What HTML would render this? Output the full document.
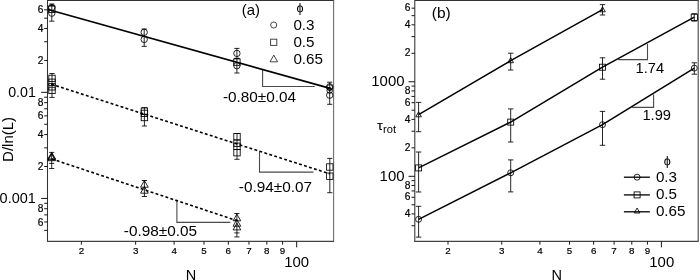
<!DOCTYPE html>
<html><head><meta charset="utf-8"><title>Figure</title>
<style>html,body{margin:0;padding:0;background:#fff}svg{display:block}</style>
</head><body>
<svg width="700" height="280" viewBox="0 0 700 280">
<rect width="700" height="280" fill="#fff"/>
<path d="M47.5 241.35V0.5H333.6" stroke="#333" stroke-width="1.05" fill="none" stroke-linecap="square"/>
<path d="M333.6 0.5V241.35" stroke="#6e6e6e" stroke-width="1.1" fill="none"/>
<path d="M47.0 241.35H334.1" stroke="#444" stroke-width="1.1" fill="none"/>
<path d="M41.20 92.35H47.5M44.20 60.41H47.5M44.20 41.73H47.5M44.20 28.47H47.5M44.20 18.19H47.5M44.20 9.79H47.5M41.20 198.45H47.5M44.20 166.51H47.5M44.20 147.83H47.5M44.20 134.57H47.5M44.20 124.29H47.5M44.20 115.89H47.5M44.20 108.79H47.5M44.20 102.63H47.5M44.20 97.20H47.5M44.20 230.39H47.5M44.20 221.99H47.5M44.20 214.89H47.5M44.20 208.73H47.5M44.20 203.30H47.5" stroke="#151515" stroke-width="1" fill="none"/>
<g font-family="'Liberation Sans', sans-serif" fill="#000">
<text x="43.3" y="64.01" font-size="10.2" text-anchor="end" stroke="#000" stroke-width="0.2">2</text>
<text x="43.3" y="32.07" font-size="10.2" text-anchor="end" stroke="#000" stroke-width="0.2">4</text>
<text x="43.3" y="13.39" font-size="10.2" text-anchor="end" stroke="#000" stroke-width="0.2">6</text>
<text x="43.3" y="170.11" font-size="10.2" text-anchor="end" stroke="#000" stroke-width="0.2">2</text>
<text x="43.3" y="138.17" font-size="10.2" text-anchor="end" stroke="#000" stroke-width="0.2">4</text>
<text x="43.3" y="119.49" font-size="10.2" text-anchor="end" stroke="#000" stroke-width="0.2">6</text>
<text x="43.3" y="106.23" font-size="10.2" text-anchor="end" stroke="#000" stroke-width="0.2">8</text>
<text x="43.3" y="225.59" font-size="10.2" text-anchor="end" stroke="#000" stroke-width="0.2">6</text>
<text x="43.3" y="212.33" font-size="10.2" text-anchor="end" stroke="#000" stroke-width="0.2">8</text>
<text x="35.8" y="97.05" font-size="14.2" text-anchor="end">0.01</text>
<text x="-0.4" y="203.25" font-size="14.3" textLength="36.2" lengthAdjust="spacingAndGlyphs">0.001</text>
<text x="81.40" y="254.2" font-size="9.8" text-anchor="middle" stroke="#000" stroke-width="0.2">2</text>
<text x="135.64" y="254.2" font-size="9.8" text-anchor="middle" stroke="#000" stroke-width="0.2">3</text>
<text x="174.12" y="254.2" font-size="9.8" text-anchor="middle" stroke="#000" stroke-width="0.2">4</text>
<text x="203.97" y="254.2" font-size="9.8" text-anchor="middle" stroke="#000" stroke-width="0.2">5</text>
<text x="228.35" y="254.2" font-size="9.8" text-anchor="middle" stroke="#000" stroke-width="0.2">6</text>
<text x="248.97" y="254.2" font-size="9.8" text-anchor="middle" stroke="#000" stroke-width="0.2">7</text>
<text x="266.83" y="254.2" font-size="9.8" text-anchor="middle" stroke="#000" stroke-width="0.2">8</text>
<text x="282.59" y="254.2" font-size="9.8" text-anchor="middle" stroke="#000" stroke-width="0.2">9</text>
<text x="284.2" y="266.9" font-size="14.5" textLength="24.9" lengthAdjust="spacingAndGlyphs">100</text>
<path d="M81.40 241.35V244.65M135.64 241.35V244.65M174.12 241.35V244.65M203.97 241.35V244.65M228.35 241.35V244.65M248.97 241.35V244.65M266.83 241.35V244.65M282.59 241.35V244.65M296.68 241.35V247.35" stroke="#151515" stroke-width="1" fill="none"/>
<text x="191" y="279.9" font-size="14.5" text-anchor="middle">N</text>
<text transform="translate(13.1 161.9) rotate(-90)" font-size="14.5" textLength="45" lengthAdjust="spacingAndGlyphs">D/ln(L)</text>
<text x="241.8" y="15.3" font-size="14.5" textLength="18.2" lengthAdjust="spacingAndGlyphs">(a)</text>
<text x="300" y="11.9" font-size="12.6" text-anchor="middle">ϕ</text>
<text x="293.4" y="29.90" font-size="15.2">0.3</text>
<text x="293.4" y="47.10" font-size="15.2">0.5</text>
<text x="293.4" y="64.30" font-size="15.2">0.65</text>
<text x="222.9" y="102.3" font-size="14.8" textLength="73.2" lengthAdjust="spacingAndGlyphs">-0.80±0.04</text>
<text x="238.8" y="192.2" font-size="14.8" textLength="73.2" lengthAdjust="spacingAndGlyphs">-0.94±0.07</text>
<text x="123.8" y="235.8" font-size="14.8" textLength="73.2" lengthAdjust="spacingAndGlyphs">-0.98±0.05</text>
</g>
<circle cx="273.7" cy="25" r="3.05" stroke="#3c3c3c" stroke-width="0.95" fill="none"/>
<rect x="270.6" y="39.2" width="6.2" height="6.2" stroke="#3c3c3c" stroke-width="0.95" fill="none"/>
<path d="M273.8 55.1L277.6 61.8H270Z" stroke="#3c3c3c" stroke-width="0.95" fill="none"/>
<path d="M262.6 69.7V86.5H314.8" stroke="#4a4a4a" stroke-width="1.1" fill="none"/>
<path d="M259.5 151.2V172.1H313.5" stroke="#4a4a4a" stroke-width="1.1" fill="none"/>
<path d="M176.9 200.3V222.4H230.4" stroke="#4a4a4a" stroke-width="1.1" fill="none"/>
<path d="M48 9.5L331 88.6" stroke="#000" stroke-width="1.75" fill="none"/>
<path d="M51.1 84.15L330 173.9" stroke="#000" stroke-width="1.6" stroke-dasharray="2.9 2.31" fill="none"/>
<path d="M51.75 158.95L236.8 220.6" stroke="#000" stroke-width="1.6" stroke-dasharray="2.9 2.31" fill="none"/>
<circle cx="51.80" cy="7.50" r="3.2" stroke="#000" stroke-width="0.85" fill="none"/>
<rect x="48.60" y="6.10" width="6.4" height="6.4" stroke="#000" stroke-width="0.85" fill="none"/>
<circle cx="51.80" cy="13.20" r="3.2" stroke="#000" stroke-width="0.85" fill="none"/>
<path d="M51.80 4.00V21.20M49.20 4.00H54.40M49.20 5.50H54.40M49.20 21.20H54.40" stroke="#000" stroke-width="0.85" fill="none"/>
<circle cx="144.20" cy="32.30" r="3.2" stroke="#000" stroke-width="0.85" fill="none"/>
<circle cx="144.20" cy="39.40" r="3.2" stroke="#000" stroke-width="0.85" fill="none"/>
<path d="M144.20 29.00V46.30M141.60 29.00H146.80M141.60 46.30H146.80" stroke="#000" stroke-width="0.85" fill="none"/>
<circle cx="236.90" cy="53.40" r="3.2" stroke="#000" stroke-width="0.85" fill="none"/>
<path d="M236.90 48.40V58.40M234.30 48.40H239.50M234.30 58.40H239.50" stroke="#000" stroke-width="0.85" fill="none"/>
<rect x="233.70" y="58.90" width="6.4" height="6.4" stroke="#000" stroke-width="0.85" fill="none"/>
<circle cx="236.90" cy="65.70" r="3.2" stroke="#000" stroke-width="0.85" fill="none"/>
<path d="M236.90 58.40V73.00M234.30 58.40H239.50M234.30 73.00H239.50" stroke="#000" stroke-width="0.85" fill="none"/>
<circle cx="329.70" cy="86.80" r="3.2" stroke="#000" stroke-width="0.85" fill="none"/>
<circle cx="329.70" cy="87.60" r="3" stroke="#000" stroke-width="0.85" fill="none"/>
<circle cx="329.70" cy="90.60" r="2.8" stroke="#000" stroke-width="0.85" fill="none"/>
<circle cx="329.70" cy="95.20" r="3.2" stroke="#000" stroke-width="0.85" fill="none"/>
<path d="M329.70 82.20V104.30M327.10 82.20H332.30M327.10 104.30H332.30" stroke="#000" stroke-width="0.85" fill="none"/>
<rect x="48.80" y="75.20" width="6.4" height="6.4" stroke="#000" stroke-width="0.85" fill="none"/>
<rect x="48.80" y="79.10" width="6.4" height="6.4" stroke="#000" stroke-width="0.85" fill="none"/>
<rect x="48.80" y="83.60" width="6.4" height="6.4" stroke="#000" stroke-width="0.85" fill="none"/>
<rect x="48.80" y="87.20" width="6.4" height="6.4" stroke="#000" stroke-width="0.85" fill="none"/>
<path d="M52.00 73.50V97.40M49.40 73.50H54.60M49.40 97.40H54.60" stroke="#000" stroke-width="0.85" fill="none"/>
<rect x="141.20" y="107.90" width="6.4" height="6.4" stroke="#000" stroke-width="0.85" fill="none"/>
<rect x="141.20" y="110.20" width="6.4" height="6.4" stroke="#000" stroke-width="0.85" fill="none"/>
<rect x="141.20" y="114.30" width="6.4" height="6.4" stroke="#000" stroke-width="0.85" fill="none"/>
<path d="M144.40 107.70V126.00M141.80 107.70H147.00M141.80 126.00H147.00" stroke="#000" stroke-width="0.85" fill="none"/>
<rect x="233.80" y="133.50" width="6.4" height="6.4" stroke="#000" stroke-width="0.85" fill="none"/>
<rect x="233.80" y="140.00" width="6.4" height="6.4" stroke="#000" stroke-width="0.85" fill="none"/>
<rect x="233.80" y="143.10" width="6.4" height="6.4" stroke="#000" stroke-width="0.85" fill="none"/>
<rect x="233.80" y="149.50" width="6.4" height="6.4" stroke="#000" stroke-width="0.85" fill="none"/>
<path d="M237.00 133.50V159.30M234.40 133.50H239.60M234.40 159.30H239.60" stroke="#000" stroke-width="0.85" fill="none"/>
<rect x="326.60" y="163.80" width="6.4" height="6.4" stroke="#000" stroke-width="0.85" fill="none"/>
<rect x="326.60" y="173.00" width="6.4" height="6.4" stroke="#000" stroke-width="0.85" fill="none"/>
<path d="M329.80 158.40V192.70M327.20 158.40H332.40M327.20 192.70H332.40" stroke="#000" stroke-width="0.85" fill="none"/>
<path d="M51.70 152.31L55.55 159.01L47.85 159.01Z" stroke="#000" stroke-width="0.85" fill="none"/>
<path d="M51.70 153.11L55.55 159.81L47.85 159.81Z" stroke="#000" stroke-width="0.85" fill="none"/>
<path d="M51.70 154.01L55.55 160.71L47.85 160.71Z" stroke="#000" stroke-width="0.85" fill="none"/>
<path d="M51.70 152.40V168.50M49.10 152.40H54.30M49.10 163.40H54.30M49.10 168.50H54.30" stroke="#000" stroke-width="0.85" fill="none"/>
<path d="M144.40 180.51L148.25 187.21L140.55 187.21Z" stroke="#000" stroke-width="0.85" fill="none"/>
<path d="M144.40 186.51L148.25 193.21L140.55 193.21Z" stroke="#000" stroke-width="0.85" fill="none"/>
<path d="M144.40 180.50V196.50M141.80 180.50H147.00M141.80 196.50H147.00" stroke="#000" stroke-width="0.85" fill="none"/>
<path d="M236.90 214.11L240.75 220.81L233.05 220.81Z" stroke="#000" stroke-width="0.85" fill="none"/>
<path d="M236.90 219.51L240.75 226.21L233.05 226.21Z" stroke="#000" stroke-width="0.85" fill="none"/>
<path d="M236.90 223.21L240.75 229.91L233.05 229.91Z" stroke="#000" stroke-width="0.85" fill="none"/>
<path d="M236.90 213.50V236.90M234.30 213.50H239.50M234.30 232.90H239.50M234.30 236.90H239.50" stroke="#000" stroke-width="0.85" fill="none"/>
<path d="M414.8 241.35V0.5H698.2" stroke="#333" stroke-width="1.05" fill="none" stroke-linecap="square"/>
<path d="M698.2 0.5V241.35" stroke="#444" stroke-width="1.1" fill="none"/>
<path d="M414.3 241.35H698.7" stroke="#444" stroke-width="1.1" fill="none"/>
<path d="M411.50 225.74H414.8M411.50 213.93H414.8M411.50 204.76H414.8M411.50 197.28H414.8M411.50 190.95H414.8M411.50 185.46H414.8M411.50 180.63H414.8M408.50 176.30H414.8M411.50 147.84H414.8M411.50 131.19H414.8M411.50 119.38H414.8M411.50 110.21H414.8M411.50 102.73H414.8M411.50 96.40H414.8M411.50 90.91H414.8M411.50 86.08H414.8M408.50 81.75H414.8M411.50 53.29H414.8M411.50 36.64H414.8M411.50 24.83H414.8M411.50 15.66H414.8M411.50 8.18H414.8" stroke="#151515" stroke-width="1" fill="none"/>
<g font-family="'Liberation Sans', sans-serif" fill="#000">
<text x="410.4" y="217.13" font-size="10.2" text-anchor="end" stroke="#000" stroke-width="0.2">4</text>
<text x="410.4" y="200.48" font-size="10.2" text-anchor="end" stroke="#000" stroke-width="0.2">6</text>
<text x="410.4" y="188.66" font-size="10.2" text-anchor="end" stroke="#000" stroke-width="0.2">8</text>
<text x="410.4" y="151.04" font-size="10.2" text-anchor="end" stroke="#000" stroke-width="0.2">2</text>
<text x="410.4" y="122.58" font-size="10.2" text-anchor="end" stroke="#000" stroke-width="0.2">4</text>
<text x="410.4" y="105.93" font-size="10.2" text-anchor="end" stroke="#000" stroke-width="0.2">6</text>
<text x="410.4" y="94.11" font-size="10.2" text-anchor="end" stroke="#000" stroke-width="0.2">8</text>
<text x="410.4" y="56.49" font-size="10.2" text-anchor="end" stroke="#000" stroke-width="0.2">2</text>
<text x="410.4" y="28.03" font-size="10.2" text-anchor="end" stroke="#000" stroke-width="0.2">4</text>
<text x="410.4" y="11.38" font-size="10.2" text-anchor="end" stroke="#000" stroke-width="0.2">6</text>
<text x="371.3" y="86.25" font-size="14.5" textLength="33.2" lengthAdjust="spacingAndGlyphs">1000</text>
<text x="379.6" y="180.70" font-size="14.5" textLength="24.9" lengthAdjust="spacingAndGlyphs">100</text>
<text x="448.00" y="254.2" font-size="9.8" text-anchor="middle" stroke="#000" stroke-width="0.2">2</text>
<text x="501.76" y="254.2" font-size="9.8" text-anchor="middle" stroke="#000" stroke-width="0.2">3</text>
<text x="539.90" y="254.2" font-size="9.8" text-anchor="middle" stroke="#000" stroke-width="0.2">4</text>
<text x="569.49" y="254.2" font-size="9.8" text-anchor="middle" stroke="#000" stroke-width="0.2">5</text>
<text x="593.67" y="254.2" font-size="9.8" text-anchor="middle" stroke="#000" stroke-width="0.2">6</text>
<text x="614.10" y="254.2" font-size="9.8" text-anchor="middle" stroke="#000" stroke-width="0.2">7</text>
<text x="631.81" y="254.2" font-size="9.8" text-anchor="middle" stroke="#000" stroke-width="0.2">8</text>
<text x="647.43" y="254.2" font-size="9.8" text-anchor="middle" stroke="#000" stroke-width="0.2">9</text>
<text x="649.3" y="267.1" font-size="14.5" textLength="24.9" lengthAdjust="spacingAndGlyphs">100</text>
<path d="M448.00 241.35V244.65M501.76 241.35V244.65M539.90 241.35V244.65M569.49 241.35V244.65M593.67 241.35V244.65M614.10 241.35V244.65M631.81 241.35V244.65M647.43 241.35V244.65M661.40 241.35V247.35" stroke="#151515" stroke-width="1" fill="none"/>
<text x="556.8" y="280.2" font-size="14.5" text-anchor="middle">N</text>
<text x="431.8" y="18.1" font-size="14.6" textLength="19" lengthAdjust="spacingAndGlyphs">(b)</text>
<text x="376.9" y="129.8" font-size="12.3" textLength="6" lengthAdjust="spacingAndGlyphs">τ</text>
<text x="383" y="132.8" font-size="10.3" textLength="13" lengthAdjust="spacingAndGlyphs">rot</text>
<text x="635.6" y="73.3" font-size="14.5" textLength="28.6" lengthAdjust="spacingAndGlyphs">1.74</text>
<text x="642.4" y="120.4" font-size="14.5" textLength="28.6" lengthAdjust="spacingAndGlyphs">1.99</text>
<text x="667.3" y="165.4" font-size="12.6" text-anchor="middle">ϕ</text>
<text x="655.9" y="182.00" font-size="15.2">0.3</text>
<text x="655.9" y="199.15" font-size="15.2">0.5</text>
<text x="655.9" y="216.30" font-size="15.2">0.65</text>
</g>
<path d="M618.2 59.6H647.5V43.9" stroke="#4a4a4a" stroke-width="1.1" fill="none"/>
<path d="M632.1 107.4H653.6V94.6" stroke="#4a4a4a" stroke-width="1.1" fill="none"/>
<path d="M418.6 114.7L510.7 60.6L602.5 9.7" stroke="#000" stroke-width="1.5" fill="none" stroke-linejoin="round"/>
<path d="M418.6 167.9L510.7 122.1L602.5 67.2L694.3 17.1" stroke="#000" stroke-width="1.5" fill="none" stroke-linejoin="round"/>
<path d="M418.6 219.3L510.7 172.8L602.5 124.7L694.3 68.1" stroke="#000" stroke-width="1.5" fill="none" stroke-linejoin="round"/>
<path d="M418.60 111.80L421.40 116.80L415.80 116.80Z" stroke="#000" stroke-width="0.85" fill="none"/>
<path d="M418.60 102.40V131.70M415.90 102.40H421.30M415.90 131.70H421.30" stroke="#000" stroke-width="0.85" fill="none"/>
<path d="M510.70 57.70L513.50 62.70L507.90 62.70Z" stroke="#000" stroke-width="0.85" fill="none"/>
<path d="M510.70 53.20V70.00M508.00 53.20H513.40M508.00 70.00H513.40" stroke="#000" stroke-width="0.85" fill="none"/>
<path d="M602.50 6.80L605.30 11.80L599.70 11.80Z" stroke="#000" stroke-width="0.85" fill="none"/>
<path d="M602.50 4.60V15.00M599.80 4.60H605.20M599.80 15.00H605.20" stroke="#000" stroke-width="0.85" fill="none"/>
<rect x="415.60" y="164.90" width="6" height="6" stroke="#000" stroke-width="0.85" fill="none"/>
<path d="M418.60 152.00V192.00M415.90 152.00H421.30M415.90 192.00H421.30" stroke="#000" stroke-width="0.85" fill="none"/>
<rect x="507.70" y="119.10" width="6" height="6" stroke="#000" stroke-width="0.85" fill="none"/>
<path d="M510.70 108.90V142.00M508.00 108.90H513.40M508.00 142.00H513.40" stroke="#000" stroke-width="0.85" fill="none"/>
<rect x="599.50" y="64.20" width="6" height="6" stroke="#000" stroke-width="0.85" fill="none"/>
<path d="M602.50 57.80V79.20M599.80 57.80H605.20M599.80 79.20H605.20" stroke="#000" stroke-width="0.85" fill="none"/>
<rect x="691.20" y="14.20" width="6.2" height="6.2" stroke="#000" stroke-width="0.85" fill="none"/>
<path d="M694.30 13.70V21.10M691.60 13.70H697.00M691.60 21.10H697.00" stroke="#000" stroke-width="0.85" fill="none"/>
<circle cx="418.60" cy="219.30" r="3" stroke="#000" stroke-width="0.85" fill="none"/>
<path d="M418.60 206.30V237.10M415.90 206.30H421.30M415.90 237.10H421.30" stroke="#000" stroke-width="0.85" fill="none"/>
<circle cx="510.70" cy="172.80" r="3" stroke="#000" stroke-width="0.85" fill="none"/>
<path d="M510.70 159.90V191.90M508.00 159.90H513.40M508.00 191.90H513.40" stroke="#000" stroke-width="0.85" fill="none"/>
<circle cx="602.50" cy="124.70" r="3" stroke="#000" stroke-width="0.85" fill="none"/>
<path d="M602.50 111.40V145.30M599.80 111.40H605.20M599.80 145.30H605.20" stroke="#000" stroke-width="0.85" fill="none"/>
<circle cx="694.30" cy="68.10" r="3" stroke="#000" stroke-width="0.85" fill="none"/>
<path d="M694.30 62.80V74.20M691.60 62.80H697.00M691.60 74.20H697.00" stroke="#000" stroke-width="0.85" fill="none"/>
<path d="M623.9 177.2H649.9" stroke="#000" stroke-width="1.3" fill="none"/>
<path d="M623.9 194.9H649.9" stroke="#000" stroke-width="1.3" fill="none"/>
<path d="M623.9 211.8H649.9" stroke="#000" stroke-width="1.3" fill="none"/>
<circle cx="637.10" cy="177.20" r="3" stroke="#000" stroke-width="0.85" fill="none"/>
<rect x="634.10" y="191.90" width="6" height="6" stroke="#000" stroke-width="0.85" fill="none"/>
<path d="M637.10 208.00L639.90 213.00L634.30 213.00Z" stroke="#000" stroke-width="0.85" fill="none"/>
</svg>
</body></html>
